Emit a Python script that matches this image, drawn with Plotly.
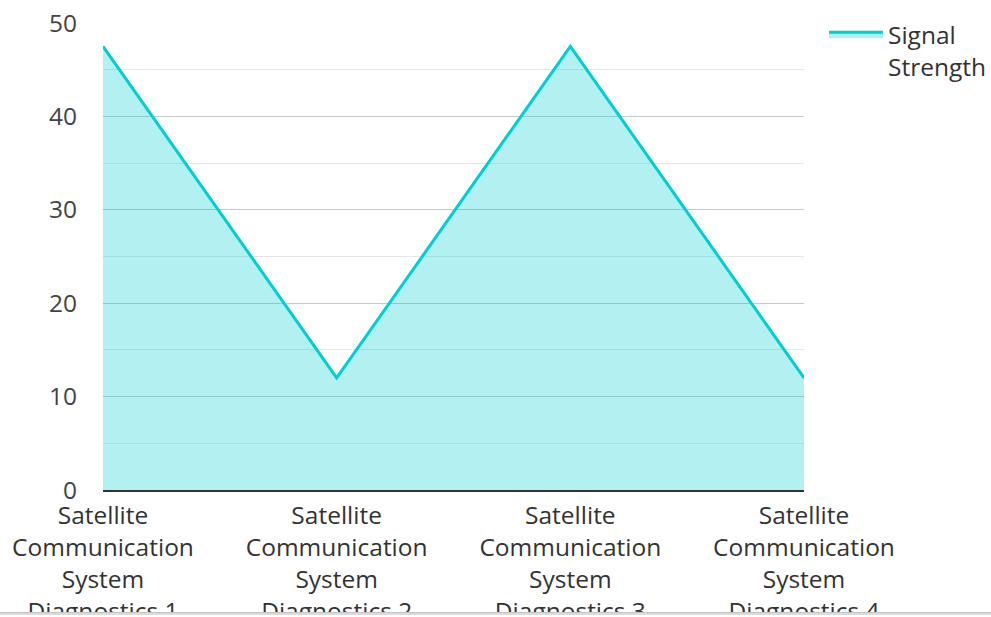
import plotly.graph_objects as go

categories = [
    "Satellite<br>Communication<br>System<br>Diagnostics 1",
    "Satellite<br>Communication<br>System<br>Diagnostics 2",
    "Satellite<br>Communication<br>System<br>Diagnostics 3",
    "Satellite<br>Communication<br>System<br>Diagnostics 4",
]
signal_strength = [47.5, 12, 47.5, 12]
series_name = "Signal<br>Strength"
y_ticks = [0, 10, 20, 30, 40, 50]

FONT = "Open Sans"
FS = 24.5
W, H = 991, 617
ML, MR, MT, MB = 103, 187, 23, 127
PH = H - MT - MB


def py(px_from_top):
    return (H - px_from_top - MB) / PH


fig = go.Figure()
fig.add_trace(go.Scatter(
    x=categories, y=signal_strength, name=series_name,
    mode="lines", fill="tozeroy",
    line=dict(color="#00CED1", width=3),
    fillcolor="rgba(0,206,209,0.3)",
    showlegend=True,
))

fig.update_layout(
    width=W, height=H,
    margin=dict(l=ML, r=MR, t=MT, b=MB, pad=0, autoexpand=False),
    paper_bgcolor="white", plot_bgcolor="white",
    font=dict(family=FONT, size=FS, color="#444"),
    showlegend=True,
    legend=dict(x=1.0285, y=1.024, xanchor="left", yanchor="top", valign="top",
                font=dict(family=FONT, size=FS, color="#333"),
                itemwidth=54, bgcolor="rgba(0,0,0,0)"),
    xaxis=dict(range=[0, 3], showgrid=False, zeroline=False, automargin=False,
               showline=True, linecolor="#333", linewidth=2,
               ticks="", ticklabelstandoff=3, tickfont=dict(size=FS, color="#333"),
               tickangle=0, fixedrange=True),
    yaxis=dict(range=[0, 50], tickvals=y_ticks, showgrid=True, automargin=False,
               gridcolor="#c8c8c8", gridwidth=1, zeroline=False,
               showline=False, ticks="", ticklabelstandoff=25,
               tickfont=dict(size=FS, color="#444"),
               minor=dict(dtick=5, showgrid=True, gridcolor="#e6e6e6", gridwidth=1)),
    shapes=[
        dict(type="rect", xref="paper", yref="paper", x0=-0.2, x1=1.3,
             y0=py(617) - 0.01, y1=py(612), fillcolor="white", line=dict(width=0),
             layer="above"),
        dict(type="rect", xref="paper", yref="paper", x0=-0.2, x1=1.3,
             y0=py(615), y1=py(612), fillcolor="#dcdcdc", line=dict(width=0),
             layer="above"),
        dict(type="line", xref="paper", yref="paper", x0=-0.2, x1=1.3,
             y0=py(612.5), y1=py(612.5), line=dict(color="#c4c4c4", width=1),
             layer="above"),
    ],
)

fig.write_html("out.html")
